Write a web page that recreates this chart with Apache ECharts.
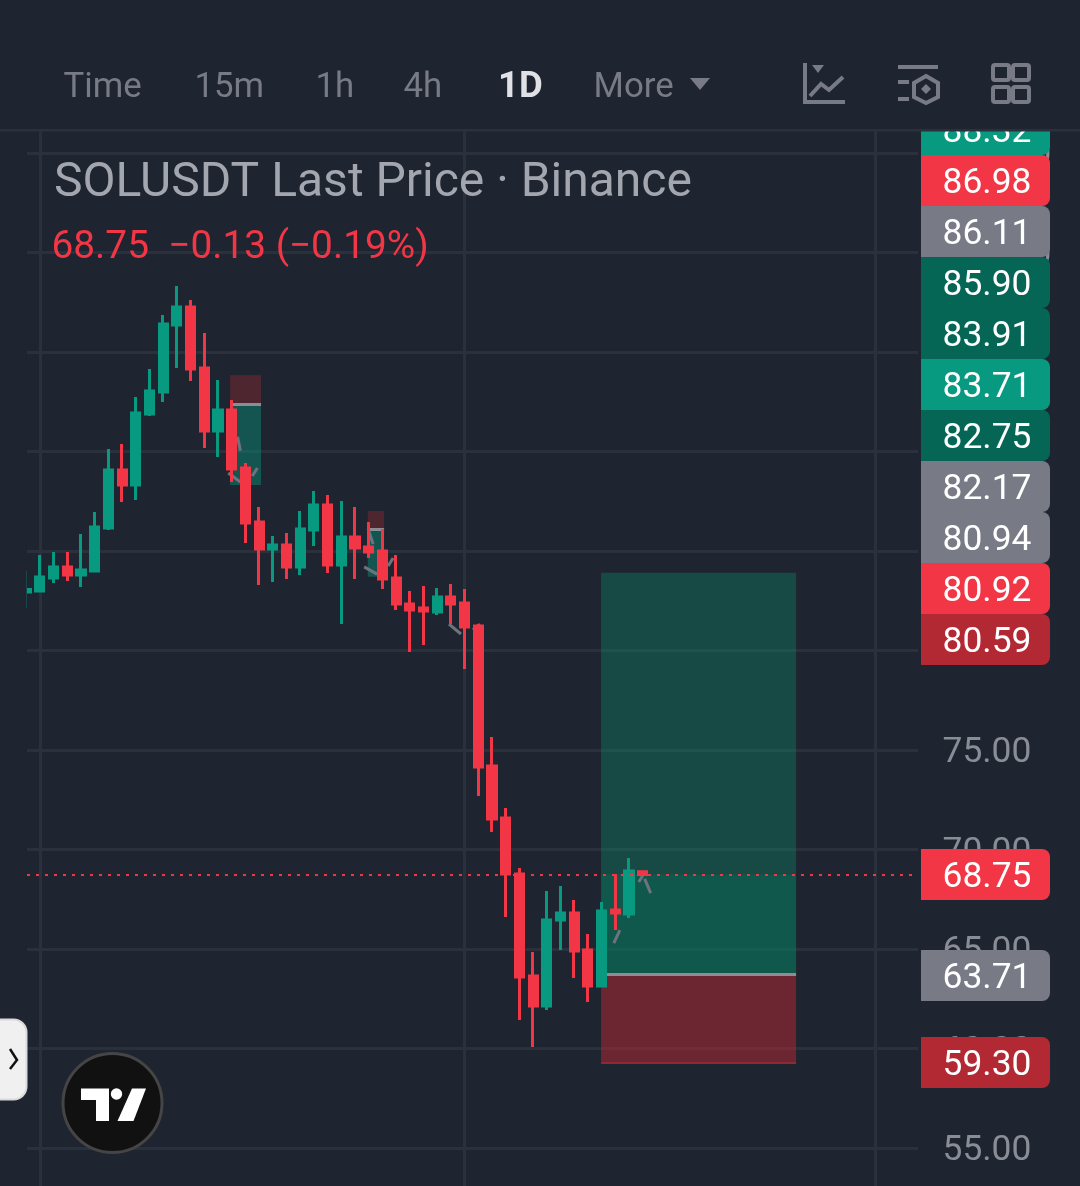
<!DOCTYPE html>
<html><head><meta charset="utf-8">
<style>html,body{margin:0;padding:0;background:#1f2530}#c{width:1080px;height:1186px}</style>
<script src="https://cdn.jsdelivr.net/npm/echarts@6/dist/echarts.min.js"></script>
</head><body><div id="c"></div>
<script>
const opens  = [82.94,82.99,83.64,84.20,83.79,83.99,86.16,89.07,88.32,91.88,92.99,96.36,97.26,94.20,91.03,92.09,89.17,86.46,85.10,85.30,84.20,86.05,87.31,84.30,85.70,85.20,85.00,83.64,82.34,82.14,81.93,82.69,82.39,81.23,74.20,71.58,68.77,63.64,62.14,66.46,66.81,64.95,63.14,66.96,66.76,68.88];
const closes = [83.07,83.69,84.20,83.79,84.05,86.21,89.07,88.32,91.93,93.04,96.41,97.26,94.15,91.03,92.09,89.12,86.41,85.10,85.30,84.20,86.11,87.31,84.30,85.70,85.15,84.95,83.59,82.34,82.04,81.99,82.69,82.34,81.18,74.15,71.53,68.77,63.59,62.14,66.46,66.81,64.90,63.14,66.91,66.81,68.92,68.75];
const lows   = [82.14,82.99,83.39,83.49,83.19,83.94,86.05,87.46,87.56,91.78,92.49,94.20,93.54,90.18,89.72,88.47,85.40,83.29,83.44,83.59,83.79,85.25,83.89,81.33,83.59,84.65,83.09,82.04,79.92,80.28,81.78,81.33,79.07,72.69,70.88,66.61,61.43,60.08,61.93,64.95,63.54,62.34,63.14,65.95,66.56,68.75];
const highs  = [83.99,84.80,84.95,84.95,85.85,86.96,90.13,90.38,92.74,94.15,96.86,98.32,97.61,95.95,93.59,92.59,89.42,87.21,85.75,85.90,87.01,88.01,87.81,87.51,87.21,86.46,86.11,84.80,82.99,83.24,83.14,83.34,83.09,81.33,75.65,72.09,69.07,64.85,67.91,68.17,67.46,65.75,67.36,68.77,69.57,68.90];

const lastPrice = 68.75;
const monthLineIndexes = [1, 32, 62];
// position tools: [start index, end index, stop, entry, target]
const positionTools = [
  [41.96, 56.19, 59.30, 63.71, 83.91],
  [14.88, 17.14, 93.84, 92.39, 88.32],
  [24.93, 26.12, 87.01, 86.11, 83.71]
];
// small grey arrows: [index, price, index, price]
const arrowStrokes = [
  [15.43,90.74,15.63,90.04],[14.75,88.92,15.63,88.47],[16.50,88.77,16.87,89.17],
  [24.96,86.10,25.32,85.35],[24.67,84.20,25.61,83.84],[26.42,84.25,26.78,84.65],
  [30.86,81.33,31.73,80.83],[32.61,81.03,33.12,81.33],[42.89,65.30,43.33,65.95],
  [44.71,68.37,45.07,68.77],[45.14,68.52,45.58,67.81]
];
const stackedTagValues = ['88.32','86.98','86.11','85.90','83.91','83.71','82.75','82.17','80.94','80.92','80.59'];
const stackedTagKinds  = ['teal','red','grey','deep','deep','teal','deep','grey','grey','red','darkred'];
const axisTagValues = [68.75, 63.71, 59.30];
const axisTagKinds  = ['red','grey','darkred'];
const timeframes = ['Time','15m','1h','4h','1D','More'];
const timeframeX = [63.5,194.5,315.5,403.5,498,593.5];
const titleText = 'SOLUSDT Last Price · Binance';
const quoteText = '68.75  −0.13 (−0.19%)';

const BG='#1f2530', GRID='#2b313c', UP='#089981', DOWN='#f23645', MUTED='#787b86';
const tagColor={teal:UP,red:DOWN,grey:MUTED,deep:'#056656',darkred:'#b22833'};
const FONT='Roboto';

const chart=echarts.init(document.getElementById('c'),null,{renderer:'canvas'});
const area=(x0,x1,y0,y1,c)=>[{xAxis:x0,yAxis:y0,itemStyle:{color:c}},{xAxis:x1,yAxis:y1}];
const boxAreas=[];const entryLines=[];
positionTools.forEach((p,i)=>{
  boxAreas.push(area(p[0],p[1],p[3],p[2],i===0?'rgba(178,40,51,0.52)':'rgba(178,40,51,0.32)'));
  boxAreas.push(area(p[0],p[1],p[3],p[4],i===0?'rgba(8,143,108,0.35)':'rgba(8,153,129,0.42)'));
  entryLines.push([{coord:[p[0],p[3]],lineStyle:{color:'#8b8d93',width:3,type:'solid'}},{coord:[p[1],p[3]]}]);
});
const t=positionTools[0];
boxAreas.push(area(t[0],t[1],t[3],lastPrice,'rgba(0,120,92,0.3)'));
entryLines.push([{coord:[t[0],t[2]],lineStyle:{color:'#8f2a35',width:2,type:'solid'}},{coord:[t[1],t[2]]}]);
const arrowLines=arrowStrokes.map(s=>[{coord:[s[0],s[1]],lineStyle:{color:'#6f737c',width:3,type:'solid'}},{coord:[s[2],s[3]]}]);

chart.setOption({
  animation:false,
  backgroundColor:BG,
  grid:{left:27,top:53.5,width:891,height:1194,containLabel:false,outerBoundsMode:'none'},
  xAxis:{type:'value',min:0.0584,max:65.09,
    axisLine:{show:false},axisLabel:{show:false},
    axisTick:{show:false,customValues:monthLineIndexes},
    splitLine:{show:true,lineStyle:{color:GRID,width:3}}},
  yAxis:{type:'value',position:'right',min:50,max:110,interval:5,
    axisLine:{show:false},axisTick:{show:false},
    axisLabel:{show:true,margin:24.5,fontFamily:FONT,fontSize:35.4,color:'#8a8d96',
      formatter:v=>'{a|'+v.toFixed(2)+'}',
      rich:{a:{color:'#8a8d96',fontFamily:FONT,fontSize:35.4,padding:[7,0,0,0]}}},
    splitLine:{show:true,lineStyle:{color:GRID,width:3}}},
  series:[
    {type:'line',name:'tools',data:[],z:1,silent:true,
     markArea:{silent:true,z:1,data:boxAreas},
     markLine:{silent:true,z:2,symbol:'none',label:{show:false},data:entryLines.concat(arrowLines)}},
    {type:'candlestick',name:'SOLUSDT',z:3,clip:true,barWidth:8.6,
     encode:{x:0,y:[1,2,3,4]},
     data:opens.map((o,i)=>[i,o,closes[i],lows[i],highs[i]]),
     itemStyle:{color:UP,color0:DOWN,borderColor:UP,borderColor0:DOWN,borderWidth:3}},
    {type:'line',name:'last',data:[],z:4,silent:true,
     markLine:{silent:true,z:4,symbol:'none',label:{show:false},
       lineStyle:{color:DOWN,width:2,type:[3,6]},data:[{yAxis:lastPrice}]}}
  ]
});

const g=[];
const Z=100;
// the chart pane starts at x=27; the first candle is cut by it
g.push({type:'rect',z:Z-1,shape:{x:0,y:0,width:26.7,height:1186},style:{fill:BG}});
function tag(top,val,kind){
  g.push({type:'rect',z:Z,shape:{x:921,y:top,width:129,height:51,r:[0,8,8,0]},style:{fill:tagColor[kind]}});
  g.push({type:'text',z:Z+1,x:987,y:top+29.5,style:{text:val,fill:'#ffffff',font:'35.4px '+FONT,align:'center',verticalAlign:'middle'}});
}
stackedTagValues.forEach((v,i)=>tag(104+i*51,v,stackedTagKinds[i]));
axisTagValues.forEach((v,i)=>tag(Math.round(chart.convertToPixel({yAxisIndex:0},v))-25,v.toFixed(2),axisTagKinds[i]));
// toolbar
g.push({type:'rect',z:Z+2,shape:{x:0,y:0,width:1080,height:129},style:{fill:BG}});
g.push({type:'rect',z:Z+2,shape:{x:0,y:129,width:1080,height:2.5},style:{fill:GRID}});
timeframes.forEach((s,i)=>g.push({type:'text',z:Z+3,x:timeframeX[i],y:88,style:{text:s,fill:s==='1D'?'#dfe1e6':MUTED,font:(s==='1D'?'700 36.6px ':'34.8px ')+FONT,align:'left',verticalAlign:'middle'}}));
g.push({type:'polygon',z:Z+3,shape:{points:[[690,78],[710,78],[700,90]]},style:{fill:MUTED}});
const stroke={stroke:MUTED,lineWidth:4,fill:null};
const pl=(pts,close)=>g.push({type:close?'polygon':'polyline',z:Z+3,shape:{points:pts},style:stroke});
pl([[805,63],[805,102],[845,102]]);
g.push({type:'polygon',z:Z+3,shape:{points:[[812,65],[824,65],[818,73]]},style:{fill:MUTED}});
pl([[810,96],[821,84],[829,90],[843,77]]);
pl([[898,67],[938,67]]);pl([[898,82],[909,82]]);pl([[898,99],[909,99]]);
pl([[926,76],[938,83],[938,97],[926,103],[914,97],[914,83]],true);
g.push({type:'polygon',z:Z+3,shape:{points:[[926,84],[931,89],[926,94],[921,89]]},style:{fill:MUTED}});
[[993,65],[1013,65],[993,87],[1013,87]].forEach(p=>g.push({type:'rect',z:Z+3,shape:{x:p[0],y:p[1],width:16,height:15,r:2},style:stroke}));
// title
g.push({type:'text',z:Z+3,x:54,y:184,style:{text:titleText,fill:'#a3a6af',font:'48px '+FONT,align:'left',verticalAlign:'middle'}});
g.push({type:'text',z:Z+3,x:51.5,y:248,style:{text:quoteText,fill:DOWN,font:'38.8px '+FONT,align:'left',verticalAlign:'middle'}});
// side pill
g.push({type:'rect',z:Z+3,shape:{x:-14,y:1019.5,width:40.5,height:80,r:13},style:{fill:'#f0f0f0',stroke:'#d9d9d9',lineWidth:2}});
g.push({type:'polyline',z:Z+3,shape:{points:[[10,1049],[17,1060],[10,1069]]},style:{stroke:'#111',lineWidth:2.5,fill:null}});
// logo
g.push({type:'circle',z:Z+3,shape:{cx:112.5,cy:1103,r:49.5},style:{fill:'#111111',stroke:'#454545',lineWidth:3}});
g.push({type:'polygon',z:Z+4,shape:{points:[[81,1088.5],[109,1088.5],[109,1121],[96,1121],[96,1100],[81,1100]]},style:{fill:'#fff'}});
g.push({type:'circle',z:Z+4,shape:{cx:116.5,cy:1094,r:5.7},style:{fill:'#fff'}});
g.push({type:'polygon',z:Z+4,shape:{points:[[132,1088.5],[146,1088.5],[133.5,1121],[117.5,1121]]},style:{fill:'#fff'}});
chart.setOption({graphic:{elements:g}});
</script></body></html>
